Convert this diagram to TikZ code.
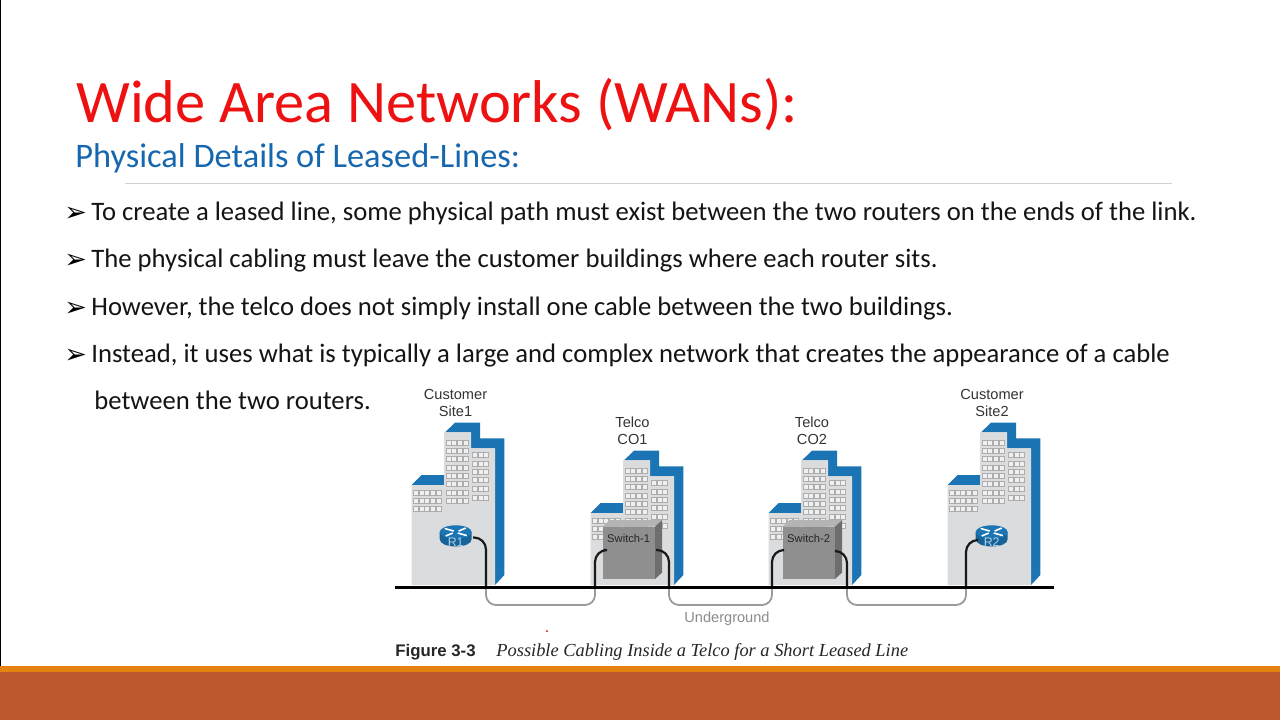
\documentclass[tikz,border=0pt]{standalone}
\usepackage{fontspec}
\setmainfont{Carlito}
\newfontfamily\helv{Liberation Sans}
\newfontfamily\tnr{Liberation Serif}
\newfontfamily\dejav{DejaVu Sans}
\definecolor{titlered}{HTML}{EE1111}
\definecolor{subblue}{HTML}{1767AE}
\definecolor{bandor}{HTML}{E48312}
\definecolor{bandru}{HTML}{BD582C}
\definecolor{bldgray}{HTML}{DADCDD}
\definecolor{bldblue}{HTML}{1B75B4}
\definecolor{cablegray}{HTML}{9A9A9A}
\definecolor{swfront}{HTML}{8F8F8F}
\definecolor{swtop}{HTML}{B4B4B4}
\definecolor{swside}{HTML}{6E6E6E}
\tikzset{
  bullet/.style={anchor=base west,inner sep=0pt,font=\fontsize{13.33}{15}\selectfont,text=black!92},
  bmark/.style={anchor=base west,inner sep=0pt,font=\dejav\fontsize{13.5}{15}\selectfont},
  diag/.style={align=center,inner sep=0pt,font=\helv\fontsize{7.3}{8.6}\selectfont,text=black!80},
  blackcable/.style={draw=black!90,line width=1.1pt,rounded corners=6pt},
  graycable/.style={draw=cablegray,line width=0.9pt,rounded corners=5pt},
  win/.style={draw=black!32,fill=white!94!black,line width=0.3pt},
  swbox/.style={draw=none,fill=swfront,minimum width=26pt,minimum height=26pt,inner sep=0pt},
}
\newcommand{\bldg}[2]{%
  \begin{scope}[shift={(390+#1,380+#2)},x=0.16667pt,y=-0.16667pt]
    \pgfmathsetmacro{\bot}{615-3*#2}
    \fill[bldblue] (165,157)--(195,128)--(270,128)--(270,175)--(343,175)--(343,\bot-30)--(315,\bot)--(315,205)--(243,205)--(243,157)--cycle;
    \fill[bldblue] (65,315)--(95,285)--(170,285)--(170,315)--cycle;
    \fill[bldgray] (65,315)--(162,315)--(162,157)--(243,157)--(243,205)--(315,205)--(315,\bot)--(65,\bot)--cycle;
    \foreach \y in {187,212,237,262,287,312,337,362}
      \foreach \x in {168,185,202,219} \draw[win] (\x,\y-7) rectangle ++(14.5,15);
    \foreach \y in {225,250,275,300,325,352}
      \foreach \x in {247,264,281} \draw[win] (\x,\y-7) rectangle ++(14.5,15);
    \foreach \y in {337,362,387}
      \foreach \x in {70,87,104,121,138} \draw[win] (\x,\y-7) rectangle ++(14.5,15);
  \end{scope}}
\newcommand{\rtr}[3]{%
  \fill[bldblue!85!black] (#1-16,532)--(#1-16,539) .. controls (#1-16,549) and (#1+16,549) .. (#1+16,539)--(#1+16,532)--cycle;
  \fill[bldblue] (#1,532) ellipse [x radius=16,y radius=6.7];
  \draw[white,line width=0.8pt] (#1-11,528.5)--(#1-2,531) (#1+11,535.5)--(#1+2,533) (#1-10,536)--(#1-3,533) (#1+10,528)--(#1+3,531);
  \node[inner sep=0pt,font=\helv\fontsize{6.2}{6.5}\selectfont,text=white!65!bldblue] (#2) at (#1,542) {#3};}
\newcommand{\swt}[3]{%
  \fill[swtop] (#1,526.7)--(#1+7,520)--(#1+59.5,520)--(#1+52.3,526.7)--cycle;
  \fill[swside] (#1+52.3,526.7)--(#1+59.5,520)--(#1+59.5,572.5)--(#1+52.3,579)--cycle;
  \node[swbox,anchor=north west] (#2) at (#1,526.7) {};
  \node[inner sep=0pt,font=\helv\fontsize{5.6}{6}\selectfont,text=black!85] (#2l) at (#1+26,538.5) {#3};}
\begin{document}
\begin{tikzpicture}[x=0.5pt,y=-0.5pt]
\useasboundingbox (0,0) rectangle (1280,720);
\fill[white] (0,0) rectangle (1280,720);
\fill[black] (0,0) rectangle (1.2,666);
\fill[bandor] (0,666) rectangle (1280,672);
\fill[bandru] (0,672) rectangle (1280,720);
\node[anchor=base west,inner sep=0pt,font=\fontsize{30.2}{34}\selectfont,text=titlered] (title) at (76,122) {Wide Area Networks (WANs):};
\node[anchor=base west,inner sep=0pt,font=\fontsize{17.2}{20}\selectfont,text=subblue] (subtitle) at (75,167) {Physical Details of Leased-Lines:};
\coordinate (ruleL) at (125,183.5);
\coordinate (ruleR) at (1172,183.5);
\draw[black!18,line width=0.7pt] (ruleL)--(ruleR);
\foreach \n/\y in {1/221,2/268,3/316,4/363}
  \node[bmark] (m\n) at (64,\y) {➢};
\node[bullet] (b1) at (91,220.7) {To create a leased line, some physical path must exist between the two routers on the ends of the link.};
\node[bullet] (b2) at (91,267.7) {The physical cabling must leave the customer buildings where each router sits.};
\node[bullet] (b3) at (91,315.7) {However, the telco does not simply install one cable between the two buildings.};
\node[bullet] (b4) at (91,362.7) {Instead, it uses what is typically a large and complex network that creates the appearance of a cable};
\node[bullet] (b5) at (94,409.7) {between the two routers.};
% buildings
\bldg{0}{0}\bldg{179}{28}\bldg{357}{28}\bldg{536}{0}
\node[diag] (l1) at (455.5,403) {Customer\\Site1};
\node[diag] (l2) at (632.5,431) {Telco\\CO1};
\node[diag] (l3) at (812,431) {Telco\\CO2};
\node[diag] (l4) at (992,403) {Customer\\Site2};
% devices
\rtr{455.7}{r1}{R1}
\rtr{991.7}{r2}{R2}
\swt{602.7}{sw1}{Switch-1}
\swt{782.7}{sw2}{Switch-2}
% cables
\coordinate (g1) at (486,587);\coordinate (g2) at (595,587);
\coordinate (g3) at (669,587);\coordinate (g4) at (772,587);
\coordinate (g5) at (847,587);\coordinate (g6) at (966,587);
\draw[graycable] (g1)--(486,605)--(595,605)--(g2);
\draw[graycable] (g3)--(669,605)--(772,605)--(g4);
\draw[graycable] (g5)--(847,605)--(966,605)--(g6);
\draw[blackcable] (473,537.5)--(486,537.5)--(g1);
\draw[blackcable] (603.5,550)--(595,550)--(g2);
\draw[blackcable] (656,550)--(669,550)--(g3);
\draw[blackcable] (783.5,550)--(772,550)--(g4);
\draw[blackcable] (836,551)--(847,551)--(g5);
\draw[blackcable] (977,540)--(966,540)--(g6);
\coordinate (gl) at (395,587);\coordinate (gr) at (1054,587);
\draw[black,line width=1.5pt] (gl)--(gr);
\node[inner sep=0pt,font=\helv\fontsize{7.3}{8.6}\selectfont,text=black!45] (ug) at (727,619) {Underground};
\node[anchor=base west,inner sep=0pt,font=\helv\bfseries\fontsize{8.4}{9}\selectfont,text=black!85] (figa) at (395,656) {Figure 3-3};
\node[anchor=base west,inner sep=0pt,font=\tnr\itshape\fontsize{9.2}{10}\selectfont,text=black!85] (figb) at (496,656) {Possible Cabling Inside a Telco for a Short Leased Line};
\fill[red!80!black] (547,631) circle (1);
\end{tikzpicture}
\end{document}
